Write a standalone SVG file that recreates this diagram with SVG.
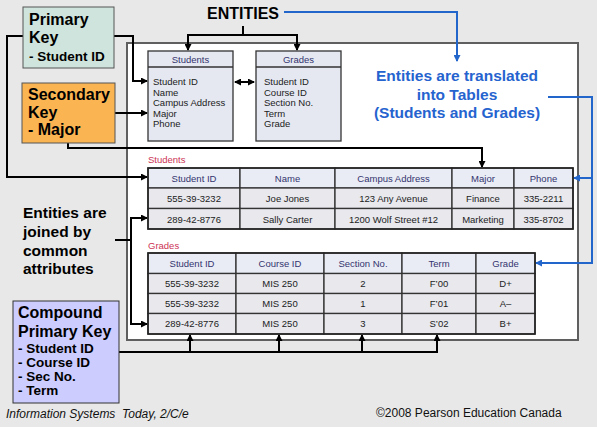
<svg xmlns="http://www.w3.org/2000/svg" width="597" height="427" viewBox="0 0 597 427">
<style>
.b{font-family:"Liberation Sans",Arial,sans-serif;font-weight:bold;fill:#000}
.t{font-family:"Liberation Sans",Arial,sans-serif;font-size:9.5px;fill:#222}
.th{font-family:"Liberation Sans",Arial,sans-serif;font-size:9.5px;fill:#34346e}
.blue{font-family:"Liberation Sans",Arial,sans-serif;font-weight:bold;font-size:15.5px;fill:#2563cf}
.red{font-family:"Liberation Sans",Arial,sans-serif;font-size:9.5px;fill:#cc3355}
.hc{fill:#e9ecf5;stroke:#333;stroke-width:1.3}
.dc{fill:#e8e8ed;stroke:#333;stroke-width:1.3}
.k{fill:none;stroke:#000;stroke-width:2}
.bl{fill:none;stroke:#2266cc;stroke-width:2}
.foot{font-family:"Liberation Sans",Arial,sans-serif;font-size:12px;fill:#111}
</style>
<defs>
<marker id="ak" markerWidth="7" markerHeight="7" refX="6" refY="3.5" orient="auto" markerUnits="userSpaceOnUse"><path d="M0,0 L7,3.5 L0,7 z" fill="#000"/></marker>
<marker id="aks" markerWidth="7" markerHeight="7" refX="6" refY="3.5" orient="auto-start-reverse" markerUnits="userSpaceOnUse"><path d="M0,0 L7,3.5 L0,7 z" fill="#000"/></marker>
<marker id="ab" markerWidth="7" markerHeight="7" refX="6" refY="3.5" orient="auto" markerUnits="userSpaceOnUse"><path d="M0,0 L7,3.5 L0,7 z" fill="#2266cc"/></marker>
</defs>
<rect x="0" y="0" width="597" height="427" fill="#e8e8e8"/>
<rect id="panel" x="127" y="43" width="451" height="297" fill="#fff" stroke="#5f5f5f" stroke-width="2"/>

<g id="connectors">
<path class="k" d="M243,26 V35"/>
<path class="k" d="M188,35 H297"/>
<path class="k" d="M188,34 V50" marker-end="url(#ak)"/>
<path class="k" d="M297,34 V50" marker-end="url(#ak)"/>
<path class="bl" d="M284,12 H457 V61" marker-end="url(#ab)"/>
<path class="bl" d="M548,97 H592 V263 H536" marker-end="url(#ab)"/>
<path class="bl" d="M592,178 H574" marker-end="url(#ab)"/>
<path class="k" d="M235,82 H254" marker-start="url(#aks)" marker-end="url(#ak)"/>
<path class="k" d="M114,36 H133 V81 H147" marker-end="url(#ak)"/>
<path class="k" d="M23,36 H7 V177 H147" marker-end="url(#ak)"/>
<path class="k" d="M115,113 H147" marker-end="url(#ak)"/>
<path class="k" d="M68,143 V148 H482 V167" marker-end="url(#ak)"/>
<path class="k" d="M115,240 H131"/>
<path class="k" d="M147,218 H131 V324 H147" marker-end="url(#ak)"/>
<path class="k" d="M131,218 H147" marker-end="url(#ak)"/>
<path class="k" d="M119,352 H437"/>
<path class="k" d="M190,353 V335" marker-end="url(#ak)"/>
<path class="k" d="M279,353 V335" marker-end="url(#ak)"/>
<path class="k" d="M362,353 V335" marker-end="url(#ak)"/>
<path class="k" d="M437,353 V335" marker-end="url(#ak)"/>
</g>

<g id="primary-key">
<rect x="23" y="7" width="91" height="61" fill="#cfe4dc" stroke="#555" stroke-width="1"/>
<text class="b" x="29" y="25" font-size="16">Primary</text>
<text class="b" x="29" y="43" font-size="16">Key</text>
<text class="b" x="29" y="61" font-size="13.5">- Student ID</text>
</g>

<g id="secondary-key">
<rect x="22" y="83" width="93" height="60" fill="#fbb452" stroke="#555" stroke-width="1"/>
<text class="b" x="28" y="100" font-size="16">Secondary</text>
<text class="b" x="28" y="118" font-size="16">Key</text>
<text class="b" x="28" y="135" font-size="16">- Major</text>
</g>

<g id="entities-label">
<text class="b" x="207" y="19" font-size="16">ENTITIES</text>
</g>

<g id="students-entity">
<rect x="148" y="51" width="85" height="90" fill="#e5e8f1" stroke="#333" stroke-width="1.3"/>
<line x1="148" y1="67" x2="233" y2="67" stroke="#333" stroke-width="1.3"/>
<text class="th" x="190.5" y="63" text-anchor="middle" fill="#3a3a9a">Students</text>
<text class="t" x="153" y="85">Student ID</text>
<text class="t" x="153" y="95.5">Name</text>
<text class="t" x="153" y="106">Campus Address</text>
<text class="t" x="153" y="116.5">Major</text>
<text class="t" x="153" y="127">Phone</text>
</g>

<g id="grades-entity">
<rect x="256" y="51" width="85" height="90" fill="#e5e8f1" stroke="#333" stroke-width="1.3"/>
<line x1="256" y1="67" x2="341" y2="67" stroke="#333" stroke-width="1.3"/>
<text class="th" x="298.5" y="63" text-anchor="middle">Grades</text>
<text class="t" x="264" y="85">Student ID</text>
<text class="t" x="264" y="95.5">Course ID</text>
<text class="t" x="264" y="106">Section No.</text>
<text class="t" x="264" y="116.5">Term</text>
<text class="t" x="264" y="127">Grade</text>
</g>

<g id="translated-label">
<text class="blue" x="457" y="81" text-anchor="middle">Entities are translated</text>
<text class="blue" x="457" y="100" text-anchor="middle">into Tables</text>
<text class="blue" x="457" y="118" text-anchor="middle">(Students and Grades)</text>
</g>

<g id="students-table">
<text class="red" x="148" y="163">Students</text>
<rect class="hc" x="148" y="168" width="92" height="20"/>
<rect class="hc" x="240" y="168" width="95" height="20"/>
<rect class="hc" x="335" y="168" width="117" height="20"/>
<rect class="hc" x="452" y="168" width="62" height="20"/>
<rect class="hc" x="514" y="168" width="59" height="20"/>
<rect class="dc" x="148" y="188" width="92" height="20.5"/>
<rect class="dc" x="240" y="188" width="95" height="20.5"/>
<rect class="dc" x="335" y="188" width="117" height="20.5"/>
<rect class="dc" x="452" y="188" width="62" height="20.5"/>
<rect class="dc" x="514" y="188" width="59" height="20.5"/>
<rect class="dc" x="148" y="208.5" width="92" height="20.5"/>
<rect class="dc" x="240" y="208.5" width="95" height="20.5"/>
<rect class="dc" x="335" y="208.5" width="117" height="20.5"/>
<rect class="dc" x="452" y="208.5" width="62" height="20.5"/>
<rect class="dc" x="514" y="208.5" width="59" height="20.5"/>
<rect x="148" y="168" width="425" height="61" fill="none" stroke="#222" stroke-width="1.6"/>
<g text-anchor="middle">
<text class="th" x="194" y="182">Student ID</text>
<text class="th" x="287.5" y="182">Name</text>
<text class="th" x="393.5" y="182">Campus Address</text>
<text class="th" x="483" y="182">Major</text>
<text class="th" x="543.5" y="182">Phone</text>
<text class="t" x="194" y="202">555-39-3232</text>
<text class="t" x="287.5" y="202">Joe Jones</text>
<text class="t" x="393.5" y="202">123 Any Avenue</text>
<text class="t" x="483" y="202">Finance</text>
<text class="t" x="543.5" y="202">335-2211</text>
<text class="t" x="194" y="222.5">289-42-8776</text>
<text class="t" x="287.5" y="222.5">Sally Carter</text>
<text class="t" x="393.5" y="222.5">1200 Wolf Street #12</text>
<text class="t" x="483" y="222.5">Marketing</text>
<text class="t" x="543.5" y="222.5">335-8702</text>
</g>
</g>

<g id="grades-table">
<text class="red" x="148" y="249">Grades</text>
<rect class="hc" x="148" y="253" width="88" height="20.5"/>
<rect class="hc" x="236" y="253" width="88" height="20.5"/>
<rect class="hc" x="324" y="253" width="78" height="20.5"/>
<rect class="hc" x="402" y="253" width="74" height="20.5"/>
<rect class="hc" x="476" y="253" width="59" height="20.5"/>
<rect class="dc" x="148" y="273.5" width="88" height="20"/>
<rect class="dc" x="236" y="273.5" width="88" height="20"/>
<rect class="dc" x="324" y="273.5" width="78" height="20"/>
<rect class="dc" x="402" y="273.5" width="74" height="20"/>
<rect class="dc" x="476" y="273.5" width="59" height="20"/>
<rect class="dc" x="148" y="293.5" width="88" height="20"/>
<rect class="dc" x="236" y="293.5" width="88" height="20"/>
<rect class="dc" x="324" y="293.5" width="78" height="20"/>
<rect class="dc" x="402" y="293.5" width="74" height="20"/>
<rect class="dc" x="476" y="293.5" width="59" height="20"/>
<rect class="dc" x="148" y="313.5" width="88" height="20.5"/>
<rect class="dc" x="236" y="313.5" width="88" height="20.5"/>
<rect class="dc" x="324" y="313.5" width="78" height="20.5"/>
<rect class="dc" x="402" y="313.5" width="74" height="20.5"/>
<rect class="dc" x="476" y="313.5" width="59" height="20.5"/>
<rect x="148" y="253" width="387" height="81" fill="none" stroke="#222" stroke-width="1.6"/>
<g text-anchor="middle">
<text class="th" x="192" y="267">Student ID</text>
<text class="th" x="280" y="267">Course ID</text>
<text class="th" x="363" y="267">Section No.</text>
<text class="th" x="439" y="267">Term</text>
<text class="th" x="505.5" y="267">Grade</text>
<text class="t" x="192" y="287">555-39-3232</text>
<text class="t" x="280" y="287">MIS 250</text>
<text class="t" x="363" y="287">2</text>
<text class="t" x="439" y="287">F’00</text>
<text class="t" x="505.5" y="287">D+</text>
<text class="t" x="192" y="307">555-39-3232</text>
<text class="t" x="280" y="307">MIS 250</text>
<text class="t" x="363" y="307">1</text>
<text class="t" x="439" y="307">F’01</text>
<text class="t" x="505.5" y="307">A–</text>
<text class="t" x="192" y="327">289-42-8776</text>
<text class="t" x="280" y="327">MIS 250</text>
<text class="t" x="363" y="327">3</text>
<text class="t" x="439" y="327">S’02</text>
<text class="t" x="505.5" y="327">B+</text>
</g>
</g>

<g id="joined-label">
<text class="b" x="23" y="218" font-size="15.5">Entities are</text>
<text class="b" x="23" y="237" font-size="15.5">joined by</text>
<text class="b" x="23" y="256" font-size="15.5">common</text>
<text class="b" x="23" y="274" font-size="15.5">attributes</text>
</g>

<g id="compound-key">
<rect x="13" y="301" width="106" height="102" fill="#ccccff" stroke="#333" stroke-width="1"/>
<text class="b" x="18" y="318" font-size="16">Compound</text>
<text class="b" x="18" y="337" font-size="16">Primary Key</text>
<text class="b" x="18" y="353" font-size="13.5">- Student ID</text>
<text class="b" x="18" y="367" font-size="13.5">- Course ID</text>
<text class="b" x="18" y="381" font-size="13.5">- Sec No.</text>
<text class="b" x="18" y="395" font-size="13.5">- Term</text>
</g>

<g id="footer">
<text class="foot" x="6" y="418" font-style="italic" xml:space="preserve">Information Systems  Today, 2/C/e</text>
<text class="foot" x="376" y="417" font-size="12.3">©2008 Pearson Education Canada</text>
</g>
</svg>
